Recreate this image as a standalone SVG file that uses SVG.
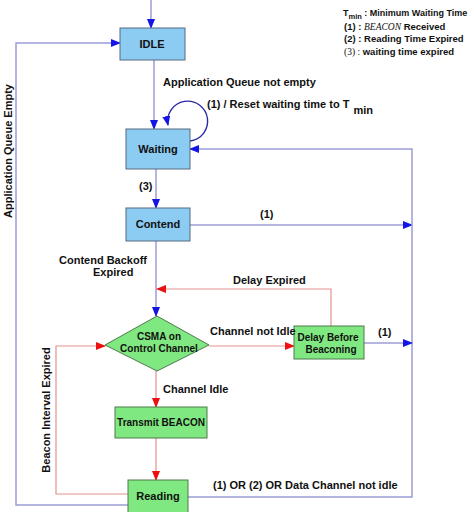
<svg xmlns="http://www.w3.org/2000/svg" width="474" height="512" viewBox="0 0 474 512">
<defs>
<style>
.t{font-family:"Liberation Sans",Arial,sans-serif;font-weight:bold;font-size:11px;fill:#111}
.s{font-size:10px}
.lg{font-size:9.5px}
.c{text-anchor:middle}
.bb{fill:#8ccbf2;stroke:#556a80;stroke-width:1}
.gb{fill:#80e880;stroke:#4f7a4f;stroke-width:1}
.bl{fill:none;stroke:#9c9cd6;stroke-width:1.5}
.rl{fill:none;stroke:#e49090;stroke-width:1.2}
.lp{fill:none;stroke:#2a2aa8;stroke-width:1.4}
</style>
<marker id="ab" markerWidth="10" markerHeight="8" refX="9" refY="4" orient="auto" markerUnits="userSpaceOnUse"><path d="M0,0 L10,4 L0,8 z" fill="#1414e6"/></marker>
<marker id="ar" markerWidth="10" markerHeight="8" refX="9" refY="4" orient="auto" markerUnits="userSpaceOnUse"><path d="M0,0 L10,4 L0,8 z" fill="#ec1010"/></marker>
</defs>
<rect width="474" height="512" fill="#fff"/>
<g id="connectors">
<path class="bl" d="M151,0 V28" marker-end="url(#ab)"/>
<path class="bl" d="M154,60 V129" marker-end="url(#ab)"/>
<path class="lp" d="M190,141 A20,20 0 1 0 168,125" marker-end="url(#ab)"/>
<path class="bl" d="M156,169 V208" marker-end="url(#ab)"/>
<path class="bl" d="M190,225 H412" marker-end="url(#ab)"/>
<path class="bl" d="M188,497 H412 V149 H190" marker-end="url(#ab)"/>
<path class="bl" d="M156,241 V316" marker-end="url(#ab)"/>
<path class="rl" d="M331,326 V289 H157" marker-end="url(#ar)"/>
<path class="rl" d="M209,346 H294" marker-end="url(#ar)"/>
<path class="bl" d="M364,343 H412" marker-end="url(#ab)"/>
<path class="rl" d="M156,371 V407" marker-end="url(#ar)"/>
<path class="rl" d="M156,438 V480" marker-end="url(#ar)"/>
<path class="rl" d="M128,494 H56 V346 H105" marker-end="url(#ar)"/>
<path class="bl" d="M128,505 H16 V43 H120" marker-end="url(#ab)"/>
</g>
<g id="idle"><rect class="bb" x="120" y="28" width="65" height="32"/><text class="t c" x="152" y="48">IDLE</text></g>
<g id="waiting"><rect class="bb" x="126" y="129" width="64" height="40"/><text class="t c" x="158" y="153">Waiting</text></g>
<g id="contend"><rect class="bb" x="126" y="208" width="64" height="33"/><text class="t c" x="158" y="228">Contend</text></g>
<g id="csma"><path class="gb" d="M157,316 L209,345 L157,371 L105,345 z"/><text class="t s c" x="159" y="340">CSMA on</text><text class="t s c" x="159" y="352">Control Channel</text></g>
<g id="delay"><rect class="gb" x="294" y="326" width="70" height="33"/><text class="t s c" x="328" y="341">Delay Before</text><text class="t s c" x="331" y="353">Beaconing</text></g>
<g id="transmit"><rect class="gb" x="115" y="407" width="92" height="31"/><text class="t s c" x="161" y="426">Transmit BEACON</text></g>
<g id="reading"><rect class="gb" x="128" y="480" width="60" height="36"/><text class="t c" x="158" y="500">Reading</text></g>
<g id="labels">
<text class="t" x="163" y="86">Application Queue not empty</text>
<text class="t" x="207" y="108">(1) / Reset waiting time to T<tspan dx="4" dy="6">min</tspan></text>
<text class="t" x="139" y="190">(3)</text>
<text class="t" x="260" y="218">(1)</text>
<text class="t" x="59" y="264">Contend Backoff</text>
<text class="t" x="93" y="276">Expired</text>
<text class="t" x="233" y="284">Delay Expired</text>
<text class="t" x="210" y="335">Channel not Idle</text>
<text class="t" x="378" y="336">(1)</text>
<text class="t" x="163" y="393">Channel Idle</text>
<text class="t" x="213" y="489">(1) OR (2) OR Data Channel not idle</text>
<text class="t c" transform="translate(12,151) rotate(-90)">Application Queue Empty</text>
<text class="t c" transform="translate(50,410) rotate(-90)">Beacon Interval Expired</text>
</g>
<g id="legend">
<text class="t" style="font-size:9px" x="343" y="16">T<tspan style="font-size:7.5px" dy="3">min</tspan><tspan dy="-3"> : Minimum Waiting Time</tspan></text>
<text class="t lg" x="344" y="30">(1) : <tspan font-family="Liberation Serif,serif" font-style="italic" font-weight="normal">BEACON</tspan>  Received</text>
<text class="t lg" x="344" y="42">(2) : Reading Time Expired</text>
<text class="t lg" x="344" y="55"><tspan font-family="Liberation Serif,serif" font-weight="normal">(3) :</tspan>  waiting time expired</text>
</g>
</svg>
